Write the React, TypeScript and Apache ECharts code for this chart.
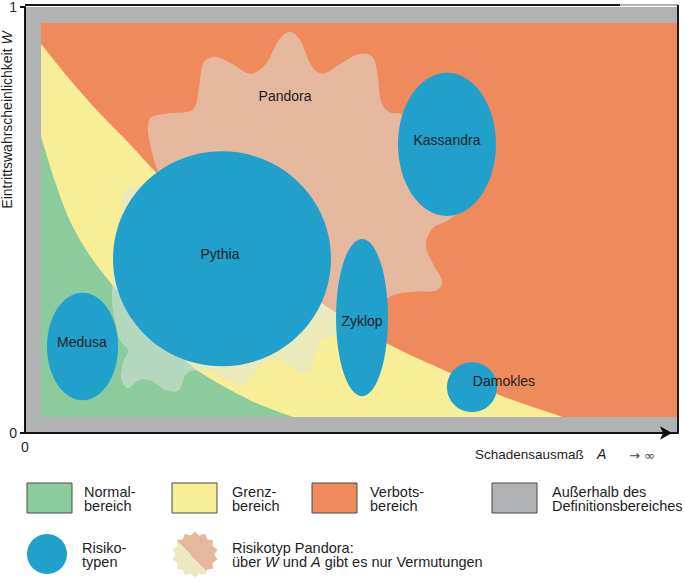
import React, { useEffect, useRef } from 'react';
import * as echarts from 'echarts';

const FONT = '"Liberation Sans", Arial, Helvetica, sans-serif';
const TEXT = '#1e1e1e';
const COLORS = {
  normal: '#8ccb9b',
  grenz: '#f8ee97',
  verbot: '#ef8a5d',
  outside: '#b1b2b4',
  risk: '#21a0cc',
  pandora: 'rgba(220,230,224,0.5)',
  pandoraSalmon: '#e5b89e',
  pandoraYellow: '#ebe8c2',
  pandoraGreen: '#bcd4bf',
};

// Axes: Schadensausmaß A (0 … ∞) and Eintrittswahrscheinlichkeit W (0 … 1), both in % of their range
const axisMin = 0;
const axisMax = 100;
const yTickLabels = ['0', '1'];
const xTickLabels = ['0', ''];

// Definitionsbereich (inner area)
const definitionX = [2.45, 100];
const definitionY = [3.74, 96.26];

// Border Grenzbereich / Verbotsbereich
const grenzBoundary = [
  [2.45, 91.36], [6.89, 82.94], [11.49, 75.0], [16.08, 67.76], [20.21, 60.98],
  [26.8, 51.64], [34.46, 42.29], [42.11, 34.11], [47.63, 28.27], [55.44, 21.03],
  [63.55, 15.19], [72.74, 8.88], [82.39, 3.74],
];

// Border Normalbereich / Grenzbereich
const normalBoundary = [
  [2.45, 69.63], [4.59, 59.11], [6.89, 49.77], [9.95, 41.59], [13.48, 34.58],
  [17.61, 27.57], [22.97, 19.39], [26.8, 14.25], [34.46, 7.71], [41.04, 3.74],
];

// Outline of the Pandora cloud
const pandoraOutline = [
  [13.32, 31.07], [13.63, 40.42], [14.55, 50.93], [15.01, 55.61], [15.77, 57.48],
  [18.38, 58.41], [20.37, 60.05], [19.6, 64.95], [18.84, 70.79], [19.3, 74.07],
  [21.9, 75.0], [25.73, 75.93], [26.65, 81.31], [27.26, 86.68], [29.1, 88.32],
  [31.7, 86.68], [34.46, 84.35], [36.91, 86.68], [38.9, 92.29], [40.58, 94.16],
  [42.11, 92.29], [43.8, 86.45], [45.64, 84.35], [48.55, 86.92], [51.3, 89.02],
  [53.29, 88.08], [54.06, 83.64], [54.52, 77.8], [55.9, 75.23], [58.19, 74.07],
  [62.02, 63.79], [65.85, 53.27], [65.08, 50.23], [62.33, 47.9], [61.41, 43.93],
  [62.48, 39.72], [63.86, 35.75], [62.94, 33.41], [59.72, 33.18], [57.12, 32.71],
  [55.13, 31.07], [52.07, 25.23], [48.24, 23.13], [45.64, 22.2], [44.41, 18.93],
  [43.8, 15.19], [42.11, 14.02], [40.12, 16.59], [37.52, 17.06], [35.68, 15.19],
  [34.46, 12.85], [32.92, 11.21], [31.09, 12.38], [28.64, 14.25], [26.19, 14.72],
  [24.66, 13.79], [23.58, 10.05], [21.59, 10.05], [19.45, 12.15], [17.46, 12.38],
  [15.77, 10.51], [14.7, 12.85], [15.01, 16.59], [15.77, 19.39], [14.55, 21.73],
  [13.94, 25.23],
];
const pandoraName = 'Pandora';
const pandoraLabelPos = [39.82, 79.21];

// Risikotypen (ellipses)
const riskNames = ['Medusa', 'Pythia', 'Kassandra', 'Zyklop', 'Damokles'];
const riskCenterX = [8.81, 30.17, 64.62, 51.61, 68.45];
const riskCenterY = [20.33, 40.89, 67.76, 27.1, 10.75];
const riskRadiusX = [5.44, 16.69, 7.5, 3.98, 3.83];
const riskRadiusY = [12.62, 25.23, 16.82, 18.46, 5.84];
const riskLabelX = [8.73, 29.86, 64.62, 51.61, 73.35];
const riskLabelY = [21.26, 42.06, 68.69, 26.4, 12.15];

const legendLabels = [
  'Normal-\nbereich',
  'Grenz-\nbereich',
  'Verbots-\nbereich',
  'Außerhalb des\nDefinitionsbereiches',
];
const legendRiskLabel = 'Risiko-\ntypen';
const legendPandoraLabel = 'Risikotyp Pandora:\nüber {i|W} und {i|A} gibt es nur Vermutungen';
const yTitle = 'Eintrittswahrscheinlichkeit {i|W}';
const xTitle = 'Schadensausmaß';
const xTitleVar = 'A';
const xTitleLimit = '→ ∞';

function smoothSegments(pts: number[][], closed: boolean): string {
  const n = pts.length;
  const get = (i: number) =>
    closed ? pts[(i + n) % n] : pts[Math.max(0, Math.min(n - 1, i))];
  const last = closed ? n : n - 1;
  let d = '';
  for (let i = 0; i < last; i++) {
    const p0 = get(i - 1), p1 = get(i), p2 = get(i + 1), p3 = get(i + 2);
    const c1 = [p1[0] + (p2[0] - p0[0]) / 6, p1[1] + (p2[1] - p0[1]) / 6];
    const c2 = [p2[0] - (p3[0] - p1[0]) / 6, p2[1] - (p3[1] - p1[1]) / 6];
    d += ` C${c1[0]} ${c1[1]} ${c2[0]} ${c2[1]} ${p2[0]} ${p2[1]}`;
  }
  return d;
}

function regionSeries(name: string, boundary: number[][], fill: string) {
  return {
    type: 'custom',
    name,
    silent: true,
    data: boundary,
    renderItem: (params: any, api: any) => {
      if (params.dataIndex !== 0) return null;
      const pts = boundary.map((p) => api.coord(p));
      const corner = api.coord([definitionX[0], definitionY[0]]);
      const d =
        `M${pts[0][0]} ${pts[0][1]}` +
        smoothSegments(pts, false) +
        ` L${corner[0]} ${corner[1]} Z`;
      return { type: 'path', shape: { pathData: d }, style: { fill } };
    },
  };
}

function starPoints(cx: number, cy: number, ro: number, ri: number, spikes: number) {
  const pts: number[][] = [];
  for (let k = 0; k < spikes * 2; k++) {
    const a = -Math.PI / 2 + (k * Math.PI) / spikes;
    const r = k % 2 === 0 ? ro : ri;
    pts.push([cx + r * Math.cos(a), cy + r * Math.sin(a)]);
  }
  return pts;
}

export default function App() {
  const ref = useRef<HTMLDivElement>(null);

  useEffect(() => {
    if (!ref.current) return;
    const chart = echarts.init(ref.current, undefined, { renderer: 'svg' });

    const legendRectX = [27, 172, 312, 492];
    const legendTextX = [84, 232, 370, 552];
    const legendFill = [COLORS.normal, COLORS.grenz, COLORS.verbot, COLORS.outside];

    const graphic: any[] = [];
    legendLabels.forEach((label, i) => {
      graphic.push({
        type: 'rect',
        z: 100,
        shape: { x: legendRectX[i], y: 483, width: 45, height: 30 },
        style: { fill: legendFill[i], stroke: '#4a4a4a', lineWidth: 1 },
      });
      graphic.push({
        type: 'text',
        z: 100,
        x: legendTextX[i],
        y: 499,
        style: {
          text: label,
          fontSize: 14.5,
          lineHeight: 14.5,
          fontFamily: FONT,
          fill: TEXT,
          align: 'left',
          verticalAlign: 'middle',
        },
      });
    });
    graphic.push({
      type: 'circle',
      z: 100,
      shape: { cx: 47, cy: 554, r: 20 },
      style: { fill: COLORS.risk },
    });
    graphic.push({
      type: 'text',
      z: 100,
      x: 82,
      y: 555,
      style: {
        text: legendRiskLabel,
        fontSize: 14.5,
        lineHeight: 14.5,
        fontFamily: FONT,
        fill: TEXT,
        align: 'left',
        verticalAlign: 'middle',
      },
    });
    graphic.push({
      type: 'polygon',
      z: 100,
      shape: { points: starPoints(195, 554.5, 23, 19.5, 14) },
      style: {
        fill: new echarts.graphic.LinearGradient(1, 0, 0, 1, [
          { offset: 0, color: COLORS.pandoraSalmon },
          { offset: 0.55, color: COLORS.pandoraSalmon },
          { offset: 0.55, color: COLORS.pandoraYellow },
          { offset: 0.86, color: COLORS.pandoraYellow },
          { offset: 0.86, color: COLORS.pandoraGreen },
          { offset: 1, color: COLORS.pandoraGreen },
        ]),
      },
    });
    graphic.push({
      type: 'text',
      z: 100,
      x: 232,
      y: 555,
      style: {
        text: legendPandoraLabel,
        rich: { i: { fontStyle: 'italic', fontSize: 14.5, fontFamily: FONT, fill: TEXT } },
        fontSize: 14.5,
        lineHeight: 14.5,
        fontFamily: FONT,
        fill: TEXT,
        align: 'left',
        verticalAlign: 'middle',
      },
    });
    // axis titles
    graphic.push({
      type: 'text',
      z: 100,
      x: 7,
      y: 120,
      rotation: Math.PI / 2,
      style: {
        text: yTitle,
        rich: { i: { fontStyle: 'italic', fontSize: 14, fontFamily: FONT, fill: TEXT } },
        fontSize: 14,
        fontFamily: FONT,
        fill: TEXT,
        align: 'center',
        verticalAlign: 'middle',
      },
    });
    graphic.push({
      type: 'text',
      z: 100,
      x: 475,
      y: 454,
      style: { text: xTitle, fontSize: 13.5, fontFamily: FONT, fill: TEXT, align: 'left', verticalAlign: 'middle' },
    });
    graphic.push({
      type: 'text',
      z: 100,
      x: 597,
      y: 454,
      style: { text: xTitleVar, fontSize: 14, fontStyle: 'italic', fontFamily: FONT, fill: TEXT, align: 'left', verticalAlign: 'middle' },
    });
    graphic.push({
      type: 'text',
      z: 100,
      x: 629,
      y: 455,
      style: { text: xTitleLimit, fontSize: 13, fontFamily: '"DejaVu Sans", sans-serif', fill: '#444', align: 'left', verticalAlign: 'middle' },
    });
    // frame lines (top, right)
    graphic.push({
      type: 'line',
      z: 100,
      shape: { x1: 25, y1: 5, x2: 620, y2: 5 },
      style: { stroke: '#1a1a1a', lineWidth: 2 },
    });
    graphic.push({
      type: 'line',
      z: 100,
      shape: { x1: 620, y1: 5, x2: 678, y2: 5 },
      style: { stroke: '#9a9a9a', lineWidth: 1.5 },
    });
    graphic.push({
      type: 'line',
      z: 100,
      shape: { x1: 678, y1: 5, x2: 678, y2: 433 },
      style: { stroke: '#1a1a1a', lineWidth: 2 },
    });

    const option: any = {
      animation: false,
      grid: {
        show: true,
        left: 25,
        right: 7,
        top: 5,
        bottom: 151,
        backgroundColor: COLORS.outside,
        borderWidth: 0,
      },
      xAxis: {
        type: 'value',
        min: axisMin,
        max: axisMax,
        interval: 100,
        splitLine: { show: false },
        axisTick: { show: false },
        axisLine: {
          show: true,
          lineStyle: { color: '#111', width: 2 },
          symbol: ['none', 'arrow'],
          symbolSize: [10, 12],
          symbolOffset: [0, -6],
        },
        axisLabel: {
          margin: 7,
          fontSize: 14,
          fontFamily: FONT,
          color: TEXT,
          formatter: (v: number) => (v === axisMin ? xTickLabels[0] : xTickLabels[1]),
        },
        z: 50,
      },
      yAxis: {
        type: 'value',
        min: axisMin,
        max: axisMax,
        interval: 100,
        splitLine: { show: false },
        axisTick: { show: true, length: 5, lineStyle: { color: '#111', width: 2 } },
        axisLine: { show: true, lineStyle: { color: '#111', width: 2 } },
        axisLabel: {
          margin: 8,
          fontSize: 14,
          fontFamily: FONT,
          color: TEXT,
          formatter: (v: number) => (v === axisMin ? yTickLabels[0] : yTickLabels[1]),
        },
        z: 50,
      },
      graphic,
      series: [
        {
          type: 'custom',
          name: 'Verbotsbereich',
          silent: true,
          data: [[definitionX[0], definitionY[0]]],
          renderItem: (params: any, api: any) => {
            const p0 = api.coord([definitionX[0], definitionY[1]]);
            const p1 = api.coord([definitionX[1], definitionY[0]]);
            return {
              type: 'rect',
              shape: { x: p0[0], y: p0[1], width: p1[0] - p0[0], height: p1[1] - p0[1] },
              style: { fill: COLORS.verbot },
            };
          },
        },
        regionSeries('Grenzbereich', grenzBoundary, COLORS.grenz),
        regionSeries('Normalbereich', normalBoundary, COLORS.normal),
        {
          type: 'custom',
          name: pandoraName,
          silent: true,
          data: pandoraOutline,
          renderItem: (params: any, api: any) => {
            if (params.dataIndex !== 0) return null;
            const pts = pandoraOutline.map((p) => api.coord(p));
            const d = `M${pts[0][0]} ${pts[0][1]}` + smoothSegments(pts, true) + ' Z';
            const lp = api.coord(pandoraLabelPos);
            return {
              type: 'group',
              children: [
                { type: 'path', shape: { pathData: d }, style: { fill: COLORS.pandora } },
                {
                  type: 'text',
                  x: lp[0],
                  y: lp[1],
                  style: {
                    text: pandoraName,
                    fontSize: 14,
                    fontFamily: FONT,
                    fill: TEXT,
                    align: 'center',
                    verticalAlign: 'middle',
                  },
                },
              ],
            };
          },
        },
        {
          type: 'custom',
          name: 'Risikotypen',
          silent: true,
          data: riskNames.map((n, i) => [
            riskCenterX[i], riskCenterY[i], riskRadiusX[i], riskRadiusY[i], riskLabelX[i], riskLabelY[i],
          ]),
          renderItem: (params: any, api: any) => {
            const i = params.dataIndex;
            const c = api.coord([api.value(0), api.value(1)]);
            const s = api.size([api.value(2), api.value(3)]);
            const l = api.coord([api.value(4), api.value(5)]);
            return {
              type: 'group',
              children: [
                {
                  type: 'ellipse',
                  shape: { cx: c[0], cy: c[1], rx: s[0], ry: s[1] },
                  style: { fill: COLORS.risk },
                },
                {
                  type: 'text',
                  x: l[0],
                  y: l[1],
                  style: {
                    text: riskNames[i],
                    fontSize: 14,
                    fontFamily: FONT,
                    fill: TEXT,
                    align: 'center',
                    verticalAlign: 'middle',
                  },
                },
              ],
            };
          },
        },
      ],
    };

    chart.setOption(option);
    return () => chart.dispose();
  }, []);

  return (
    <div
      ref={ref}
      style={{ position: 'absolute', left: 0, top: 0, width: 685, height: 584, background: '#fff' }}
    />
  );
}
